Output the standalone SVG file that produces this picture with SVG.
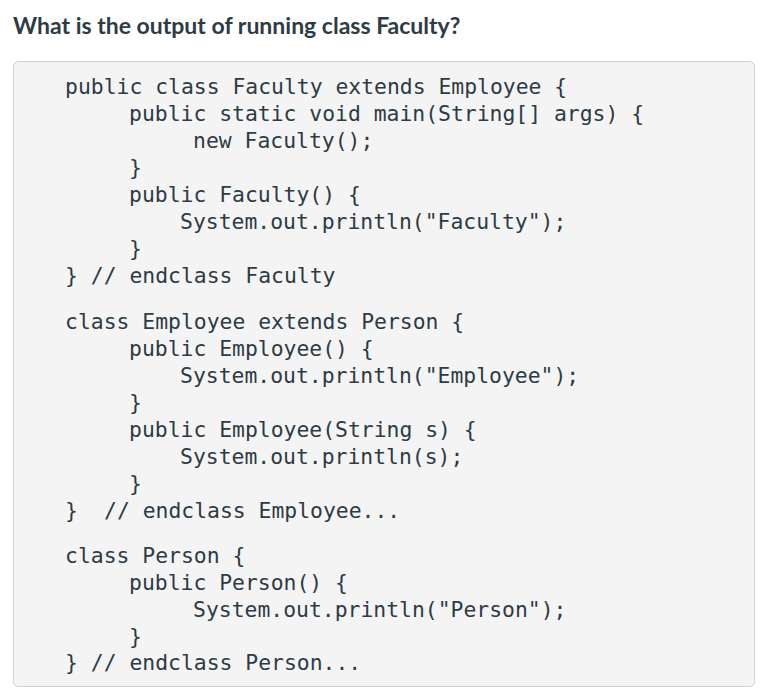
<svg xmlns="http://www.w3.org/2000/svg" width="765" height="695" viewBox="0 0 765 695">
<style>
.t{font-family:Lato,"Liberation Sans",sans-serif;font-weight:bold;font-size:23px;fill:#2d3b45}
.c{font-family:"DejaVu Sans Mono","Liberation Mono",monospace;font-size:21.4px;fill:#2d3b45;white-space:pre}
</style>
<rect width="765" height="695" fill="#ffffff"/>
<text class="t" x="13" y="34">What is the output of running class Faculty?</text>
<rect x="13.5" y="61.5" width="741" height="625" rx="5" fill="#f4f4f4" stroke="#d0d0d0"/>
<g class="c">
<text x="65" y="94">public class Faculty extends Employee {</text>
<text x="129" y="121">public static void main(String[] args) {</text>
<text x="193" y="148">new Faculty();</text>
<text x="129" y="175">}</text>
<text x="129" y="202">public Faculty() {</text>
<text x="180" y="229">System.out.println("Faculty");</text>
<text x="129" y="256">}</text>
<text x="65" y="283">} // endclass Faculty</text>
<text x="65" y="329">class Employee extends Person {</text>
<text x="129" y="356">public Employee() {</text>
<text x="180" y="383">System.out.println("Employee");</text>
<text x="129" y="410">}</text>
<text x="129" y="437">public Employee(String s) {</text>
<text x="180" y="464">System.out.println(s);</text>
<text x="129" y="491">}</text>
<text x="65" y="518">}</text>
<text x="104" y="518">// endclass Employee...</text>
<text x="65" y="563">class Person {</text>
<text x="129" y="590">public Person() {</text>
<text x="193" y="617">System.out.println("Person");</text>
<text x="129" y="644">}</text>
<text x="65" y="670">} // endclass Person...</text>
</g>
</svg>
